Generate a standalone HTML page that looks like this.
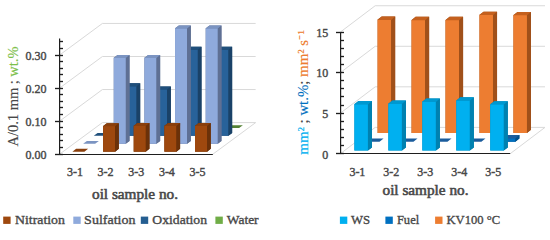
<!DOCTYPE html>
<html><head><meta charset="utf-8"><style>
html,body{margin:0;padding:0;background:#fff;width:550px;height:229px;overflow:hidden}
svg{display:block;font-family:"Liberation Serif",serif}
</style></head><body>
<svg width="550" height="229" viewBox="0 0 550 229">
<rect width="550" height="229" fill="#fff"/>
<line x1="59.6" y1="121.15" x2="102.4" y2="89.55" stroke="#D9D9D9" stroke-width="1"/><line x1="102.4" y1="89.55" x2="255.65" y2="89.55" stroke="#D9D9D9" stroke-width="1"/><line x1="59.6" y1="88.1" x2="102.4" y2="56.5" stroke="#D9D9D9" stroke-width="1"/><line x1="102.4" y1="56.5" x2="255.65" y2="56.5" stroke="#D9D9D9" stroke-width="1"/><line x1="59.6" y1="55.05" x2="102.4" y2="23.45" stroke="#D9D9D9" stroke-width="1"/><line x1="102.4" y1="23.45" x2="255.65" y2="23.45" stroke="#D9D9D9" stroke-width="1"/><line x1="59.6" y1="154.2" x2="102.4" y2="122.6" stroke="#D9D9D9" stroke-width="1"/><line x1="102.4" y1="122.6" x2="255.65" y2="122.6" stroke="#D9D9D9" stroke-width="1"/><line x1="212.85" y1="154.2" x2="255.65" y2="122.6" stroke="#D9D9D9" stroke-width="1"/><polygon points="227.1,127.93 239.1,127.93 242.85,125.17 230.85,125.17" fill="#548235"/><polygon points="93.8,135.83 105.8,135.83 109.55,133.07 97.55,133.07" fill="#1F4F7B"/><polygon points="124.45,135.83 124.45,86.1 128.2,83.33 140.2,83.33 140.2,133.07 136.45,135.83" fill="#1A4268"/><polygon points="124.45,86.1 136.75,86.1 136.75,135.83 124.45,135.83" fill="#28629A"/><polygon points="136.45,135.83 140.2,133.07 140.2,83.33 136.45,86.1" fill="#1A4268"/><polygon points="124.45,86.4 136.45,86.4 140.2,83.33 128.2,83.33" fill="#1F4F7B"/><polygon points="155.1,135.83 155.1,89.3 158.85,86.53 170.85,86.53 170.85,133.07 167.1,135.83" fill="#1A4268"/><polygon points="155.1,89.3 167.4,89.3 167.4,135.83 155.1,135.83" fill="#28629A"/><polygon points="167.1,135.83 170.85,133.07 170.85,86.53 167.1,89.3" fill="#1A4268"/><polygon points="155.1,89.6 167.1,89.6 170.85,86.53 158.85,86.53" fill="#1F4F7B"/><polygon points="185.75,135.83 185.75,49.5 189.5,46.73 201.5,46.73 201.5,133.07 197.75,135.83" fill="#1A4268"/><polygon points="185.75,49.5 198.05,49.5 198.05,135.83 185.75,135.83" fill="#28629A"/><polygon points="197.75,135.83 201.5,133.07 201.5,46.73 197.75,49.5" fill="#1A4268"/><polygon points="185.75,49.8 197.75,49.8 201.5,46.73 189.5,46.73" fill="#1F4F7B"/><polygon points="216.4,135.83 216.4,49.5 220.15,46.73 232.15,46.73 232.15,133.07 228.4,135.83" fill="#1A4268"/><polygon points="216.4,49.5 228.7,49.5 228.7,135.83 216.4,135.83" fill="#28629A"/><polygon points="228.4,135.83 232.15,133.07 232.15,46.73 228.4,49.5" fill="#1A4268"/><polygon points="216.4,49.8 228.4,49.8 232.15,46.73 220.15,46.73" fill="#1F4F7B"/><polygon points="83.1,143.73 95.1,143.73 98.85,140.97 86.85,140.97" fill="#7B94C2"/><polygon points="113.75,143.73 113.75,57.7 117.5,54.94 129.5,54.94 129.5,140.97 125.75,143.73" fill="#5F7094"/><polygon points="113.75,57.7 126.05,57.7 126.05,143.73 113.75,143.73" fill="#8FAADC"/><polygon points="125.75,143.73 129.5,140.97 129.5,54.94 125.75,57.7" fill="#5F7094"/><polygon points="113.75,58 125.75,58 129.5,54.94 117.5,54.94" fill="#7B94C2"/><polygon points="144.4,143.73 144.4,57.7 148.15,54.94 160.15,54.94 160.15,140.97 156.4,143.73" fill="#5F7094"/><polygon points="144.4,57.7 156.7,57.7 156.7,143.73 144.4,143.73" fill="#8FAADC"/><polygon points="156.4,143.73 160.15,140.97 160.15,54.94 156.4,57.7" fill="#5F7094"/><polygon points="144.4,58 156.4,58 160.15,54.94 148.15,54.94" fill="#7B94C2"/><polygon points="175.05,143.73 175.05,28.3 178.8,25.54 190.8,25.54 190.8,140.97 187.05,143.73" fill="#5F7094"/><polygon points="175.05,28.3 187.35,28.3 187.35,143.73 175.05,143.73" fill="#8FAADC"/><polygon points="187.05,143.73 190.8,140.97 190.8,25.54 187.05,28.3" fill="#5F7094"/><polygon points="175.05,28.6 187.05,28.6 190.8,25.54 178.8,25.54" fill="#7B94C2"/><polygon points="205.7,143.73 205.7,28.3 209.45,25.54 221.45,25.54 221.45,140.97 217.7,143.73" fill="#5F7094"/><polygon points="205.7,28.3 218,28.3 218,143.73 205.7,143.73" fill="#8FAADC"/><polygon points="217.7,143.73 221.45,140.97 221.45,25.54 217.7,28.3" fill="#5F7094"/><polygon points="205.7,28.6 217.7,28.6 221.45,25.54 209.45,25.54" fill="#7B94C2"/><polygon points="72.4,151.63 84.4,151.63 88.15,148.87 76.15,148.87" fill="#8A3F0C"/><polygon points="103.05,151.63 103.05,126 106.8,123.23 118.8,123.23 118.8,148.87 115.05,151.63" fill="#6B3109"/><polygon points="103.05,126 115.35,126 115.35,151.63 103.05,151.63" fill="#9E480E"/><polygon points="115.05,151.63 118.8,148.87 118.8,123.23 115.05,126" fill="#6B3109"/><polygon points="103.05,126.3 115.05,126.3 118.8,123.23 106.8,123.23" fill="#8A3F0C"/><polygon points="133.7,151.63 133.7,125.8 137.45,123.03 149.45,123.03 149.45,148.87 145.7,151.63" fill="#6B3109"/><polygon points="133.7,125.8 146,125.8 146,151.63 133.7,151.63" fill="#9E480E"/><polygon points="145.7,151.63 149.45,148.87 149.45,123.03 145.7,125.8" fill="#6B3109"/><polygon points="133.7,126.1 145.7,126.1 149.45,123.03 137.45,123.03" fill="#8A3F0C"/><polygon points="164.35,151.63 164.35,125.8 168.1,123.03 180.1,123.03 180.1,148.87 176.35,151.63" fill="#6B3109"/><polygon points="164.35,125.8 176.65,125.8 176.65,151.63 164.35,151.63" fill="#9E480E"/><polygon points="176.35,151.63 180.1,148.87 180.1,123.03 176.35,125.8" fill="#6B3109"/><polygon points="164.35,126.1 176.35,126.1 180.1,123.03 168.1,123.03" fill="#8A3F0C"/><polygon points="195,151.63 195,125.8 198.75,123.03 210.75,123.03 210.75,148.87 207,151.63" fill="#6B3109"/><polygon points="195,125.8 207.3,125.8 207.3,151.63 195,151.63" fill="#9E480E"/><polygon points="207,151.63 210.75,148.87 210.75,123.03 207,125.8" fill="#6B3109"/><polygon points="195,126.1 207,126.1 210.75,123.03 198.75,123.03" fill="#8A3F0C"/><line x1="59" y1="154.5" x2="212.85" y2="154.5" stroke="#1e1e1e" stroke-width="1"/><line x1="59.6" y1="38.52" x2="59.6" y2="154.5" stroke="#1e1e1e" stroke-width="1.2"/><line x1="55" y1="154.5" x2="63" y2="154.5" stroke="#1e1e1e" stroke-width="1.35"/><line x1="55" y1="121.5" x2="63" y2="121.5" stroke="#1e1e1e" stroke-width="1.35"/><line x1="55" y1="88.5" x2="63" y2="88.5" stroke="#1e1e1e" stroke-width="1.35"/><line x1="55" y1="55.5" x2="63" y2="55.5" stroke="#1e1e1e" stroke-width="1.35"/><line x1="59.5" y1="147.5" x2="63" y2="147.5" stroke="#1e1e1e" stroke-width="1.35"/><line x1="59.5" y1="140.5" x2="63" y2="140.5" stroke="#1e1e1e" stroke-width="1.35"/><line x1="59.5" y1="134.5" x2="63" y2="134.5" stroke="#1e1e1e" stroke-width="1.35"/><line x1="59.5" y1="127.5" x2="63" y2="127.5" stroke="#1e1e1e" stroke-width="1.35"/><line x1="59.5" y1="114.5" x2="63" y2="114.5" stroke="#1e1e1e" stroke-width="1.35"/><line x1="59.5" y1="107.5" x2="63" y2="107.5" stroke="#1e1e1e" stroke-width="1.35"/><line x1="59.5" y1="101.5" x2="63" y2="101.5" stroke="#1e1e1e" stroke-width="1.35"/><line x1="59.5" y1="94.5" x2="63" y2="94.5" stroke="#1e1e1e" stroke-width="1.35"/><line x1="59.5" y1="81.5" x2="63" y2="81.5" stroke="#1e1e1e" stroke-width="1.35"/><line x1="59.5" y1="74.5" x2="63" y2="74.5" stroke="#1e1e1e" stroke-width="1.35"/><line x1="59.5" y1="68.5" x2="63" y2="68.5" stroke="#1e1e1e" stroke-width="1.35"/><line x1="59.5" y1="61.5" x2="63" y2="61.5" stroke="#1e1e1e" stroke-width="1.35"/><line x1="59.5" y1="48.5" x2="63" y2="48.5" stroke="#1e1e1e" stroke-width="1.35"/><line x1="59.5" y1="41.5" x2="63" y2="41.5" stroke="#1e1e1e" stroke-width="1.35"/><line x1="340.4" y1="113.15" x2="375.2" y2="86.84" stroke="#D9D9D9" stroke-width="1"/><line x1="375.2" y1="86.84" x2="545" y2="86.84" stroke="#D9D9D9" stroke-width="1"/><line x1="340.4" y1="72.6" x2="375.2" y2="46.29" stroke="#D9D9D9" stroke-width="1"/><line x1="375.2" y1="46.29" x2="545" y2="46.29" stroke="#D9D9D9" stroke-width="1"/><line x1="340.4" y1="32.05" x2="375.2" y2="5.74" stroke="#D9D9D9" stroke-width="1"/><line x1="375.2" y1="5.74" x2="545" y2="5.74" stroke="#D9D9D9" stroke-width="1"/><line x1="340.4" y1="153.7" x2="375.2" y2="127.39" stroke="#D9D9D9" stroke-width="1"/><line x1="375.2" y1="127.39" x2="545" y2="127.39" stroke="#D9D9D9" stroke-width="1"/><line x1="510.2" y1="153.7" x2="545" y2="127.39" stroke="#D9D9D9" stroke-width="1"/><polygon points="377.6,132.91 377.6,19.6 381.66,16.53 395.16,16.53 395.16,129.84 391.1,132.91" fill="#A0501A"/><polygon points="377.6,19.6 391.4,19.6 391.4,132.91 377.6,132.91" fill="#ED7D31"/><polygon points="391.1,132.91 395.16,129.84 395.16,16.53 391.1,19.6" fill="#A0501A"/><polygon points="377.6,19.9 391.1,19.9 395.16,16.53 381.66,16.53" fill="#C4601E"/><polygon points="411.56,132.91 411.56,19.9 415.62,16.83 429.12,16.83 429.12,129.84 425.06,132.91" fill="#A0501A"/><polygon points="411.56,19.9 425.36,19.9 425.36,132.91 411.56,132.91" fill="#ED7D31"/><polygon points="425.06,132.91 429.12,129.84 429.12,16.83 425.06,19.9" fill="#A0501A"/><polygon points="411.56,20.2 425.06,20.2 429.12,16.83 415.62,16.83" fill="#C4601E"/><polygon points="445.52,132.91 445.52,19.9 449.58,16.83 463.08,16.83 463.08,129.84 459.02,132.91" fill="#A0501A"/><polygon points="445.52,19.9 459.32,19.9 459.32,132.91 445.52,132.91" fill="#ED7D31"/><polygon points="459.02,132.91 463.08,129.84 463.08,16.83 459.02,19.9" fill="#A0501A"/><polygon points="445.52,20.2 459.02,20.2 463.08,16.83 449.58,16.83" fill="#C4601E"/><polygon points="479.48,132.91 479.48,14.8 483.54,11.73 497.04,11.73 497.04,129.84 492.98,132.91" fill="#A0501A"/><polygon points="479.48,14.8 493.28,14.8 493.28,132.91 479.48,132.91" fill="#ED7D31"/><polygon points="492.98,132.91 497.04,129.84 497.04,11.73 492.98,14.8" fill="#A0501A"/><polygon points="479.48,15.1 492.98,15.1 497.04,11.73 483.54,11.73" fill="#C4601E"/><polygon points="513.44,132.91 513.44,15 517.5,11.93 531,11.93 531,129.84 526.94,132.91" fill="#A0501A"/><polygon points="513.44,15 527.24,15 527.24,132.91 513.44,132.91" fill="#ED7D31"/><polygon points="526.94,132.91 531,129.84 531,11.93 526.94,15" fill="#A0501A"/><polygon points="513.44,15.3 526.94,15.3 531,11.93 517.5,11.93" fill="#C4601E"/><polygon points="366,141.68 379.5,141.68 383.56,138.61 370.06,138.61" fill="#1B5C9C"/><polygon points="399.96,141.68 413.46,141.68 417.52,138.61 404.02,138.61" fill="#1B5C9C"/><polygon points="433.92,141.68 447.42,141.68 451.48,138.61 437.98,138.61" fill="#1B5C9C"/><polygon points="467.88,141.68 481.38,141.68 485.44,138.61 471.94,138.61" fill="#1B5C9C"/><polygon points="501.84,141.68 501.84,138.1 505.9,135.03 519.4,135.03 519.4,138.61 515.34,141.68" fill="#00508A"/><polygon points="501.84,138.1 515.64,138.1 515.64,141.68 501.84,141.68" fill="#0070C0"/><polygon points="515.34,141.68 519.4,138.61 519.4,135.03 515.34,138.1" fill="#00508A"/><polygon points="501.84,138.4 515.34,138.4 519.4,135.03 505.9,135.03" fill="#1B5C9C"/><polygon points="354.4,150.45 354.4,104.1 358.46,101.03 371.96,101.03 371.96,147.38 367.9,150.45" fill="#0081B0"/><polygon points="354.4,104.1 368.2,104.1 368.2,150.45 354.4,150.45" fill="#00B0F0"/><polygon points="367.9,150.45 371.96,147.38 371.96,101.03 367.9,104.1" fill="#0081B0"/><polygon points="354.4,104.4 367.9,104.4 371.96,101.03 358.46,101.03" fill="#0098D0"/><polygon points="388.36,150.45 388.36,103.6 392.42,100.53 405.92,100.53 405.92,147.38 401.86,150.45" fill="#0081B0"/><polygon points="388.36,103.6 402.16,103.6 402.16,150.45 388.36,150.45" fill="#00B0F0"/><polygon points="401.86,150.45 405.92,147.38 405.92,100.53 401.86,103.6" fill="#0081B0"/><polygon points="388.36,103.9 401.86,103.9 405.92,100.53 392.42,100.53" fill="#0098D0"/><polygon points="422.32,150.45 422.32,101.6 426.38,98.53 439.88,98.53 439.88,147.38 435.82,150.45" fill="#0081B0"/><polygon points="422.32,101.6 436.12,101.6 436.12,150.45 422.32,150.45" fill="#00B0F0"/><polygon points="435.82,150.45 439.88,147.38 439.88,98.53 435.82,101.6" fill="#0081B0"/><polygon points="422.32,101.9 435.82,101.9 439.88,98.53 426.38,98.53" fill="#0098D0"/><polygon points="456.28,150.45 456.28,100.4 460.34,97.33 473.84,97.33 473.84,147.38 469.78,150.45" fill="#0081B0"/><polygon points="456.28,100.4 470.08,100.4 470.08,150.45 456.28,150.45" fill="#00B0F0"/><polygon points="469.78,150.45 473.84,147.38 473.84,97.33 469.78,100.4" fill="#0081B0"/><polygon points="456.28,100.7 469.78,100.7 473.84,97.33 460.34,97.33" fill="#0098D0"/><polygon points="490.24,150.45 490.24,104.2 494.3,101.13 507.8,101.13 507.8,147.38 503.74,150.45" fill="#0081B0"/><polygon points="490.24,104.2 504.04,104.2 504.04,150.45 490.24,150.45" fill="#00B0F0"/><polygon points="503.74,150.45 507.8,147.38 507.8,101.13 503.74,104.2" fill="#0081B0"/><polygon points="490.24,104.5 503.74,104.5 507.8,101.13 494.3,101.13" fill="#0098D0"/><line x1="340" y1="153.5" x2="510.2" y2="153.5" stroke="#1e1e1e" stroke-width="1"/><line x1="340.6" y1="32.05" x2="340.6" y2="153.5" stroke="#1e1e1e" stroke-width="1.2"/><line x1="336" y1="153.5" x2="344" y2="153.5" stroke="#1e1e1e" stroke-width="1.35"/><line x1="336" y1="113.5" x2="344" y2="113.5" stroke="#1e1e1e" stroke-width="1.35"/><line x1="336" y1="72.5" x2="344" y2="72.5" stroke="#1e1e1e" stroke-width="1.35"/><line x1="336" y1="32.5" x2="344" y2="32.5" stroke="#1e1e1e" stroke-width="1.35"/><line x1="340.5" y1="145.5" x2="344" y2="145.5" stroke="#1e1e1e" stroke-width="1.35"/><line x1="340.5" y1="137.5" x2="344" y2="137.5" stroke="#1e1e1e" stroke-width="1.35"/><line x1="340.5" y1="129.5" x2="344" y2="129.5" stroke="#1e1e1e" stroke-width="1.35"/><line x1="340.5" y1="121.5" x2="344" y2="121.5" stroke="#1e1e1e" stroke-width="1.35"/><line x1="340.5" y1="105.5" x2="344" y2="105.5" stroke="#1e1e1e" stroke-width="1.35"/><line x1="340.5" y1="96.5" x2="344" y2="96.5" stroke="#1e1e1e" stroke-width="1.35"/><line x1="340.5" y1="88.5" x2="344" y2="88.5" stroke="#1e1e1e" stroke-width="1.35"/><line x1="340.5" y1="80.5" x2="344" y2="80.5" stroke="#1e1e1e" stroke-width="1.35"/><line x1="340.5" y1="64.5" x2="344" y2="64.5" stroke="#1e1e1e" stroke-width="1.35"/><line x1="340.5" y1="56.5" x2="344" y2="56.5" stroke="#1e1e1e" stroke-width="1.35"/><line x1="340.5" y1="48.5" x2="344" y2="48.5" stroke="#1e1e1e" stroke-width="1.35"/><line x1="340.5" y1="40.5" x2="344" y2="40.5" stroke="#1e1e1e" stroke-width="1.35"/>
<text x="46.6" y="158.8" font-size="12" fill="#484848" stroke="#484848" stroke-width="0.4" text-anchor="end">0.00</text><text x="46.6" y="125.75" font-size="12" fill="#484848" stroke="#484848" stroke-width="0.4" text-anchor="end">0.10</text><text x="46.6" y="92.7" font-size="12" fill="#484848" stroke="#484848" stroke-width="0.4" text-anchor="end">0.20</text><text x="46.6" y="59.65" font-size="12" fill="#484848" stroke="#484848" stroke-width="0.4" text-anchor="end">0.30</text><text x="74.92" y="175.8" font-size="12" fill="#484848" stroke="#484848" stroke-width="0.4" text-anchor="middle">3-1</text><text x="105.57" y="175.8" font-size="12" fill="#484848" stroke="#484848" stroke-width="0.4" text-anchor="middle">3-2</text><text x="136.22" y="175.8" font-size="12" fill="#484848" stroke="#484848" stroke-width="0.4" text-anchor="middle">3-3</text><text x="166.88" y="175.8" font-size="12" fill="#484848" stroke="#484848" stroke-width="0.4" text-anchor="middle">3-4</text><text x="197.52" y="175.8" font-size="12" fill="#484848" stroke="#484848" stroke-width="0.4" text-anchor="middle">3-5</text><text x="135" y="199.1" font-size="14" fill="#484848" stroke="#484848" stroke-width="0.55" text-anchor="middle" textLength="86" lengthAdjust="spacingAndGlyphs">oil sample no.</text><text x="328.2" y="158.5" font-size="12" fill="#484848" stroke="#484848" stroke-width="0.4" text-anchor="end">0</text><text x="328.2" y="117.95" font-size="12" fill="#484848" stroke="#484848" stroke-width="0.4" text-anchor="end">5</text><text x="328.2" y="77.4" font-size="12" fill="#484848" stroke="#484848" stroke-width="0.4" text-anchor="end">10</text><text x="328.2" y="36.85" font-size="12" fill="#484848" stroke="#484848" stroke-width="0.4" text-anchor="end">15</text><text x="357.38" y="175.8" font-size="12" fill="#484848" stroke="#484848" stroke-width="0.4" text-anchor="middle">3-1</text><text x="391.34" y="175.8" font-size="12" fill="#484848" stroke="#484848" stroke-width="0.4" text-anchor="middle">3-2</text><text x="425.3" y="175.8" font-size="12" fill="#484848" stroke="#484848" stroke-width="0.4" text-anchor="middle">3-3</text><text x="459.26" y="175.8" font-size="12" fill="#484848" stroke="#484848" stroke-width="0.4" text-anchor="middle">3-4</text><text x="493.22" y="175.8" font-size="12" fill="#484848" stroke="#484848" stroke-width="0.4" text-anchor="middle">3-5</text><text x="425.5" y="194.5" font-size="14" fill="#484848" stroke="#484848" stroke-width="0.55" text-anchor="middle" textLength="86" lengthAdjust="spacingAndGlyphs">oil sample no.</text><text transform="translate(17.7,96.5) rotate(-90)" font-size="14" stroke-width="0.15" text-anchor="middle" fill="#484848" stroke="#484848" textLength="100" lengthAdjust="spacingAndGlyphs">A/0.1 mm ; <tspan fill="#7CC04A" stroke="#7CC04A">wt.%</tspan></text><text transform="translate(307.7,92.4) rotate(-90)" font-size="14" stroke-width="0.15" text-anchor="middle" fill="#484848" stroke="#484848" textLength="124.5" lengthAdjust="spacingAndGlyphs"><tspan fill="#00B0F0" stroke="#00B0F0">mm²</tspan> ; <tspan fill="#0070C0" stroke="#0070C0">wt.%</tspan>; <tspan fill="#ED7D31" stroke="#ED7D31">mm² s⁻¹</tspan></text><rect x="3.2" y="216.6" width="7.4" height="7.3" fill="#9E480E"/><text x="15" y="223.6" font-size="12.5" fill="#484848" stroke="#484848" stroke-width="0.35" text-anchor="start" textLength="49.9" lengthAdjust="spacingAndGlyphs">Nitration</text><rect x="73.3" y="216.6" width="7.4" height="7.3" fill="#8FAADC"/><text x="84.1" y="223.6" font-size="12.5" fill="#484848" stroke="#484848" stroke-width="0.35" text-anchor="start" textLength="51.4" lengthAdjust="spacingAndGlyphs">Sulfation</text><rect x="140.8" y="216.6" width="7.4" height="7.3" fill="#255E91"/><text x="152.3" y="223.6" font-size="12.5" fill="#484848" stroke="#484848" stroke-width="0.35" text-anchor="start" textLength="54.7" lengthAdjust="spacingAndGlyphs">Oxidation</text><rect x="215.4" y="216.6" width="7.4" height="7.3" fill="#70AD47"/><text x="226.8" y="223.6" font-size="12.5" fill="#484848" stroke="#484848" stroke-width="0.35" text-anchor="start" textLength="31.8" lengthAdjust="spacingAndGlyphs">Water</text><rect x="339.9" y="216.6" width="7.4" height="7.3" fill="#00B0F0"/><text x="351" y="223.6" font-size="12.5" fill="#484848" stroke="#484848" stroke-width="0.35" text-anchor="start" textLength="19.1" lengthAdjust="spacingAndGlyphs">WS</text><rect x="385.4" y="216.6" width="7.4" height="7.3" fill="#0070C0"/><text x="396.9" y="223.6" font-size="12.5" fill="#484848" stroke="#484848" stroke-width="0.35" text-anchor="start" textLength="22.3" lengthAdjust="spacingAndGlyphs">Fuel</text><rect x="435.1" y="216.6" width="7.4" height="7.3" fill="#ED7D31"/><text x="446.5" y="223.6" font-size="12.5" fill="#484848" stroke="#484848" stroke-width="0.35" text-anchor="start" textLength="53.6" lengthAdjust="spacingAndGlyphs">KV100 °C</text>
</svg>
</body></html>
